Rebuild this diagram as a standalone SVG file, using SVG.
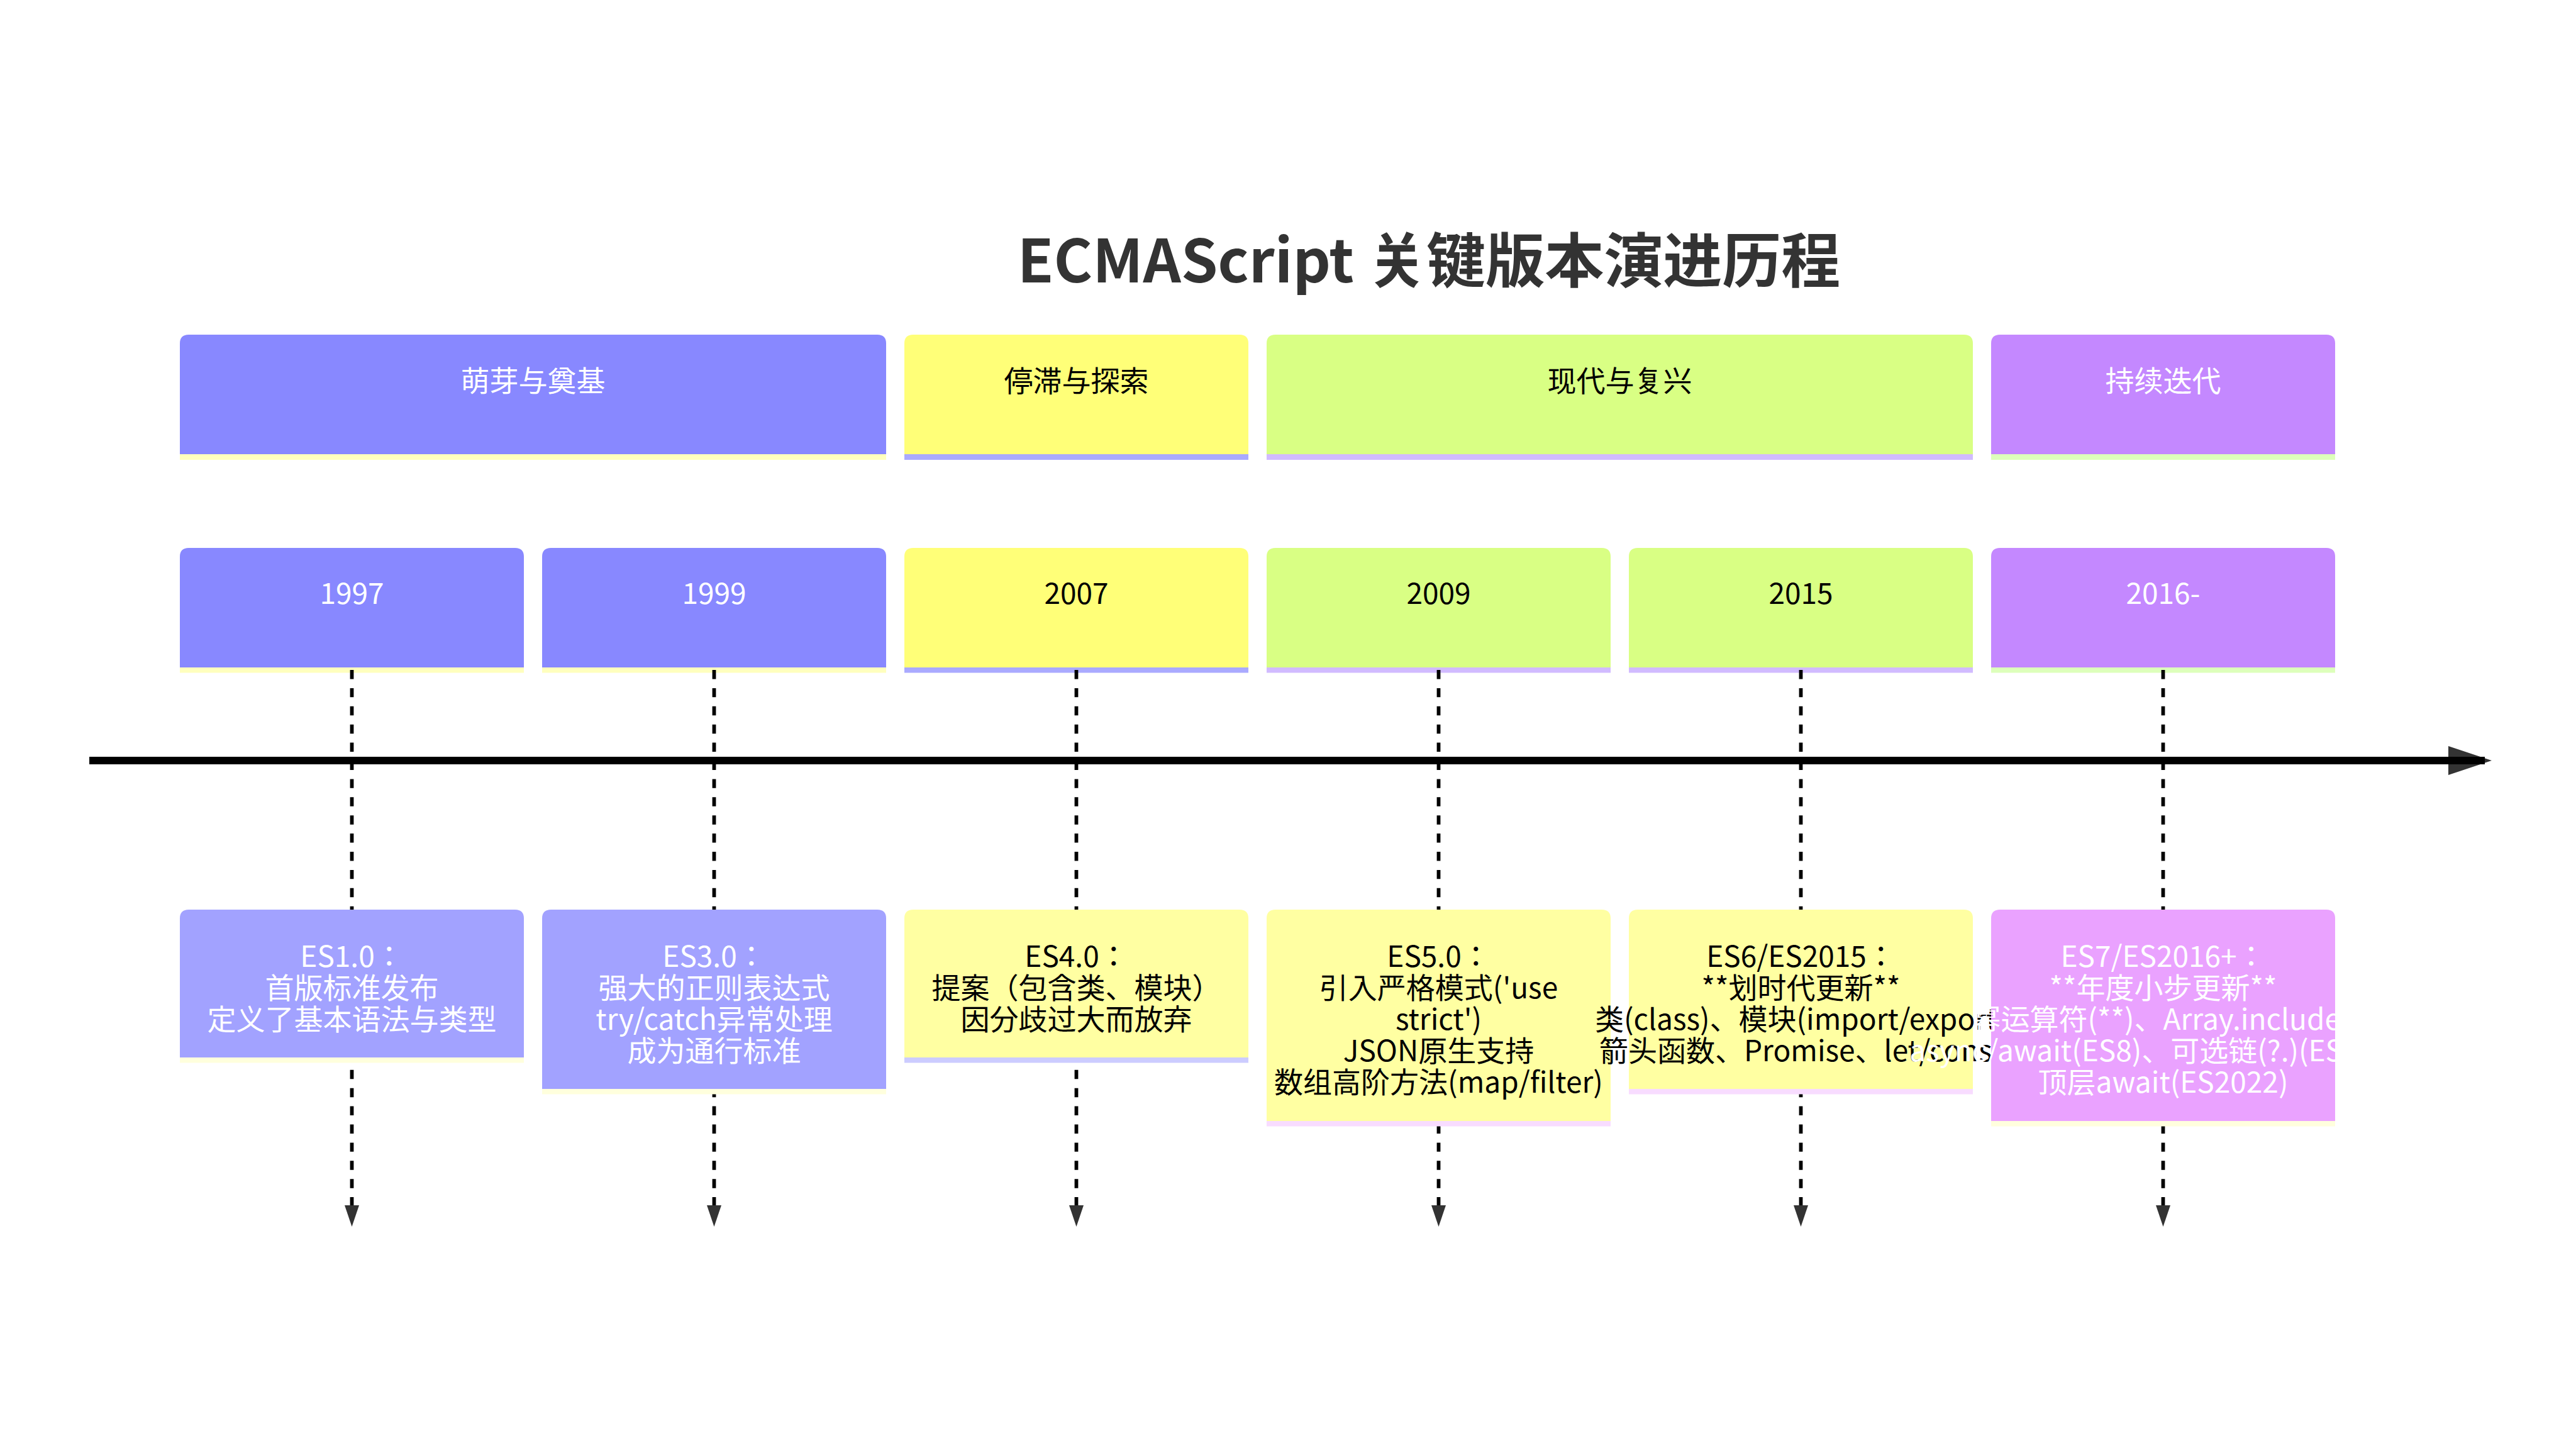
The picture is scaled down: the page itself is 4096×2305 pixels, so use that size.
<svg xmlns="http://www.w3.org/2000/svg" width="4096" height="2305" viewBox="0 0 4096 2305">
<style>
.t{font-family:"Noto Sans CJK JP","Noto Sans CJK SC","Noto Sans",sans-serif;font-size:46px;text-anchor:middle;dominant-baseline:central}
.w{fill:#ffffff}
.k{fill:#000000}
.title{font-family:"Noto Sans CJK JP","Noto Sans CJK SC","Noto Sans",sans-serif;font-size:94px;font-weight:bold;fill:#333333;text-anchor:middle;dominant-baseline:central}
.c1{fill:#8888ff}.b1{fill:#ffffbe}
.c2{fill:#ffff78}.b2{fill:#aaaaff}
.c3{fill:#d9ff84}.b3{fill:#d1bbff}
.c4{fill:#c488ff}.b4{fill:#ddffbb}
.e1{fill:#a2a2ff}.eb1{fill:#ffffdd}
.e2{fill:#ffffa2}.eb2{fill:#ccccff}.eb3{fill:#f8dcff}
.e4{fill:#eaa2ff}.eb4{fill:#fffedd}
.dash{stroke:#000;stroke-width:5.8;stroke-dasharray:14.45 14.45;fill:none;marker-end:url(#ah)}
</style>
<defs>
<marker id="ah" viewBox="0 0 34 23" refX="0" refY="11.5" markerWidth="34" markerHeight="23" markerUnits="userSpaceOnUse" orient="auto"><path d="M0,0 L34,11.5 L0,23 Z" fill="#333333"/></marker>
</defs>
<rect width="4096" height="2305" fill="#ffffff"/>
<text class="title" x="2272" y="408">ECMAScript 关键版本演进历程</text>

<g id="sections">
<g id="section-1"><path class="c1" d="M286,722 V546 Q286,532 300,532 H1395 Q1409,532 1409,546 V722 Z"/><rect class="b1" x="286" y="722" width="1123" height="9"/><text class="t w" x="847.5" y="601.5">萌芽与奠基</text></g>
<g id="section-2"><path class="c2" d="M1438,722 V546 Q1438,532 1452,532 H1971 Q1985,532 1985,546 V722 Z"/><rect class="b2" x="1438" y="722" width="547" height="9"/><text class="t k" x="1711.5" y="601.5">停滞与探索</text></g>
<g id="section-3"><path class="c3" d="M2014,722 V546 Q2014,532 2028,532 H3123 Q3137,532 3137,546 V722 Z"/><rect class="b3" x="2014" y="722" width="1123" height="9"/><text class="t k" x="2575.5" y="601.5">现代与复兴</text></g>
<g id="section-4"><path class="c4" d="M3166,722 V546 Q3166,532 3180,532 H3699 Q3713,532 3713,546 V722 Z"/><rect class="b4" x="3166" y="722" width="547" height="9"/><text class="t w" x="3439.5" y="601.5">持续迭代</text></g>
</g>

<g id="years">
<g id="year-1997"><path class="c1" d="M286,1061 V885 Q286,871 300,871 H819 Q833,871 833,885 V1061 Z"/><rect class="b1" x="286" y="1061" width="547" height="8.5"/><text class="t w" x="559.5" y="940">1997</text></g>
<g id="year-1999"><path class="c1" d="M862,1061 V885 Q862,871 876,871 H1395 Q1409,871 1409,885 V1061 Z"/><rect class="b1" x="862" y="1061" width="547" height="8.5"/><text class="t w" x="1135.5" y="940">1999</text></g>
<g id="year-2007"><path class="c2" d="M1438,1061 V885 Q1438,871 1452,871 H1971 Q1985,871 1985,885 V1061 Z"/><rect class="b2" x="1438" y="1061" width="547" height="8.5"/><text class="t k" x="1711.5" y="940">2007</text></g>
<g id="year-2009"><path class="c3" d="M2014,1061 V885 Q2014,871 2028,871 H2547 Q2561,871 2561,885 V1061 Z"/><rect class="b3" x="2014" y="1061" width="547" height="8.5"/><text class="t k" x="2287.5" y="940">2009</text></g>
<g id="year-2015"><path class="c3" d="M2590,1061 V885 Q2590,871 2604,871 H3123 Q3137,871 3137,885 V1061 Z"/><rect class="b3" x="2590" y="1061" width="547" height="8.5"/><text class="t k" x="2863.5" y="940">2015</text></g>
<g id="year-2016"><path class="c4" d="M3166,1061 V885 Q3166,871 3180,871 H3699 Q3713,871 3713,885 V1061 Z"/><rect class="b4" x="3166" y="1061" width="547" height="8.5"/><text class="t w" x="3439.5" y="940">2016-</text></g>
</g>

<g id="connectors">
<polygon points="3893,1186 3962,1209 3893,1232" fill="#333333"/>
<line x1="142" y1="1209" x2="3951" y2="1209" stroke="#000" stroke-width="12"/>
<line class="dash" x1="559.5" y1="1065" x2="559.5" y2="1916"/>
<line class="dash" x1="1135.5" y1="1065" x2="1135.5" y2="1916"/>
<line class="dash" x1="1711.5" y1="1065" x2="1711.5" y2="1916"/>
<line class="dash" x1="2287.5" y1="1065" x2="2287.5" y2="1916"/>
<line class="dash" x1="2863.5" y1="1065" x2="2863.5" y2="1916"/>
<line class="dash" x1="3439.5" y1="1065" x2="3439.5" y2="1916"/>
</g>

<g id="events">
<g id="event-es1"><path class="e1" d="M286,1681 V1460 Q286,1446 300,1446 H819 Q833,1446 833,1460 V1681 Z"/><rect class="eb1" x="286" y="1681" width="547" height="8.5"/>
<text class="t w" x="559.5" y="1517">ES1.0：</text><text class="t w" x="559.5" y="1567">首版标准发布</text><text class="t w" x="559.5" y="1617">定义了基本语法与类型</text></g>
<g id="event-es3"><path class="e1" d="M862,1731 V1460 Q862,1446 876,1446 H1395 Q1409,1446 1409,1460 V1731 Z"/><rect class="eb1" x="862" y="1731" width="547" height="8.5"/>
<text class="t w" x="1135.5" y="1517">ES3.0：</text><text class="t w" x="1135.5" y="1567">强大的正则表达式</text><text class="t w" x="1135.5" y="1617">try/catch异常处理</text><text class="t w" x="1135.5" y="1667">成为通行标准</text></g>
<g id="event-es4"><path class="e2" d="M1438,1681 V1460 Q1438,1446 1452,1446 H1971 Q1985,1446 1985,1460 V1681 Z"/><rect class="eb2" x="1438" y="1681" width="547" height="8.5"/>
<text class="t k" x="1711.5" y="1517">ES4.0：</text><text class="t k" x="1711.5" y="1567">提案（包含类、模块）</text><text class="t k" x="1711.5" y="1617">因分歧过大而放弃</text></g>
<g id="event-es5"><path class="e2" d="M2014,1782 V1460 Q2014,1446 2028,1446 H2547 Q2561,1446 2561,1460 V1782 Z"/><rect class="eb3" x="2014" y="1782" width="547" height="8.5"/>
<text class="t k" x="2287.5" y="1517">ES5.0：</text><text class="t k" x="2287.5" y="1567">引入严格模式('use</text><text class="t k" x="2287.5" y="1617">strict')</text><text class="t k" x="2287.5" y="1667">JSON原生支持</text><text class="t k" x="2287.5" y="1717">数组高阶方法(map/filter)</text></g>
<g id="event-es6"><path class="e2" d="M2590,1731 V1460 Q2590,1446 2604,1446 H3123 Q3137,1446 3137,1460 V1731 Z"/><rect class="eb3" x="2590" y="1731" width="547" height="8.5"/>
<text class="t k" x="2863.5" y="1517">ES6/ES2015：</text><text class="t k" x="2863.5" y="1567">**划时代更新**</text><text class="t k" x="2863.5" y="1617">类(class)、模块(import/export)</text><text class="t k" x="2863.5" y="1667">箭头函数、Promise、let/const</text></g>
<g id="event-es7"><path class="e4" d="M3166,1782 V1460 Q3166,1446 3180,1446 H3699 Q3713,1446 3713,1460 V1782 Z"/><rect class="eb4" x="3166" y="1782" width="547" height="8.5"/>
<text class="t w" x="3439.5" y="1517">ES7/ES2016+：</text><text class="t w" x="3439.5" y="1567">**年度小步更新**</text><text class="t w" x="3439.5" y="1617">幂运算符(**)、Array.includes</text><text class="t w" x="3439.5" y="1667">async/await(ES8)、可选链(?.)(ES2020)</text><text class="t w" x="3439.5" y="1717">顶层await(ES2022)</text></g>
</g>
</svg>
